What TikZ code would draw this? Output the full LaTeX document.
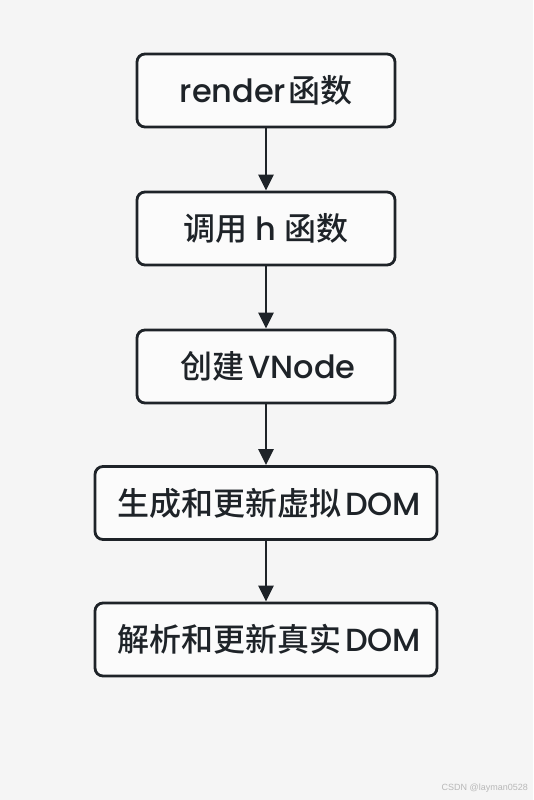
\documentclass[tikz,border=0pt]{standalone}
\usepackage{fontspec}
\setmainfont{Poppins}[UprightFont={* Medium}]
\newfontfamily\cjk{Noto Sans CJK SC}[UprightFont={* Medium}]
\newfontfamily\wmfont{Liberation Sans}
\usetikzlibrary{arrows.meta}
\definecolor{bg}{HTML}{F5F5F5}
\definecolor{boxfill}{HTML}{FBFBFB}
\definecolor{ink}{HTML}{1E2328}
\definecolor{wm}{HTML}{B8B8B8}
\newcommand{\gapcl}{\hspace{4pt}}
\tikzset{
  stepbox/.style={draw=ink, line width=2.8pt, fill=boxfill, rounded corners=8pt,
    minimum height=73pt, text=ink, inner sep=0pt, font=\fontsize{32}{36}\selectfont},
  narrowbox/.style={stepbox, minimum width=258pt},
  widebox/.style={stepbox, minimum width=342pt},
  flow/.style={draw=ink, line width=2.8pt, -{Triangle[width=15pt,length=16pt]}}
}
\begin{document}
\begin{tikzpicture}[x=1pt,y=-1pt]
\fill[bg] (0,0) rectangle (533,800);
\useasboundingbox (0,0) rectangle (533,800);
\node[narrowbox] (n1) at (266,90.5) {render\hspace{2pt}{\cjk 函数}};
\node[narrowbox] (n2) at (266,228.5) {{\cjk 调用} h {\cjk 函数}};
\node[narrowbox] (n3) at (266,366.5) {\hspace*{4pt}{\cjk 创建}\gapcl VNode};
\node[widebox] (n4) at (266,503) {\hspace*{6pt}{\cjk 生成和更新虚拟}\gapcl DOM};
\node[widebox] (n5) at (266,639.5) {\hspace*{6pt}{\cjk 解析和更新真实}\gapcl DOM};
\draw[flow] (n1) -- (n2);
\draw[flow] (n2) -- (n3);
\draw[flow] (n3) -- (n4);
\draw[flow] (n4) -- (n5);
\node[anchor=east, text=wm, font=\wmfont\fontsize{9}{10}\selectfont, inner sep=0pt] (wm) at (528,788) {CSDN @layman0528};
\end{tikzpicture}
\end{document}
